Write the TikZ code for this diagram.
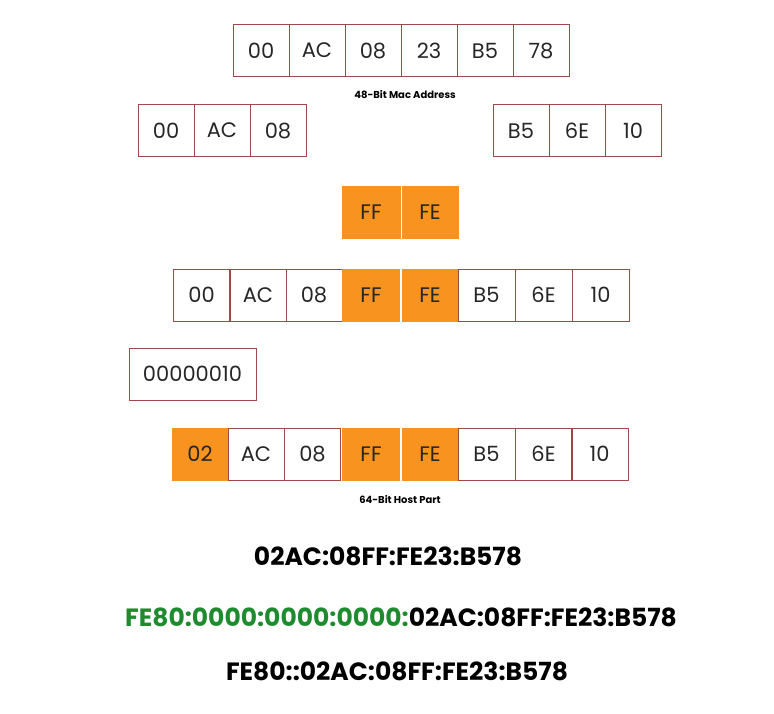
\documentclass[tikz,border=0pt]{standalone}
\usepackage{fontspec}
\setmainfont{Poppins}
\definecolor{bord}{HTML}{A0474A}
\definecolor{org}{HTML}{F7931E}
\definecolor{grn}{HTML}{1E8C2E}
\begin{document}
\begin{tikzpicture}[x=1pt,y=-1pt,
 cell/.style={draw=bord,line width=0.8pt,minimum width=#1,minimum height=52pt,inner sep=0,font=\fontsize{21}{21}\selectfont\color{black!85}},
 cell/.default=56pt,
 ocell/.style={cell=#1,fill=org,draw=org},
 ocell/.default=57pt,
 lbl/.style={font=\bfseries\fontsize{10}{10}\selectfont},
 big/.style={font=\bfseries\fontsize{25}{25}\selectfont}]
\useasboundingbox (0,0) rectangle (774,713);
% row 1
\foreach \t [count=\i] in {00,AC,08,23,B5,78}
  \node[cell] (a\i) at ({233+56*(\i-1)+28},50.5) {\t};
\node[lbl] (l1) at (405,95) {48-Bit Mac Address};
% row 2
\foreach \t [count=\i] in {00,AC,08}
  \node[cell] (b\i) at ({138+56*(\i-1)+28},130.5) {\t};
\foreach \t [count=\i] in {B5,6E,10}
  \node[cell] (c\i) at ({493+56*(\i-1)+28},130.5) {\t};
% row 3
\node[ocell=58pt] (f1) at (371,212.5) {FF};
\node[ocell=56pt] (f2) at (430,212.5) {FE};
% row 4
\foreach \t/\x [count=\i] in {00/201.5,AC/258,08/314}
  \node[cell] (d\i) at (\x,295) {\t};
\node[ocell=57pt] (d4) at (371,295) {FF};
\node[ocell=56pt] (d5) at (430,295) {FE};
\foreach \t/\x [count=\i from 6] in {B5/486.5,6E/543.5,10/600.5}
  \node[cell=57pt] (d\i) at (\x,295) {\t};
% binary
\node[cell=127pt] (bin) at (192.5,374) {00000010};
% row 6
\node[ocell=56pt] (e1) at (200,454) {02};
\foreach \t/\x [count=\i from 2] in {AC/256,08/312.5}
  \node[cell] (e\i) at (\x,454) {\t};
\node[ocell=57pt] (e4) at (371,454) {FF};
\node[ocell=56pt] (e5) at (430,454) {FE};
\foreach \t/\x [count=\i from 6] in {B5/486.5,6E/543.5,10/599.5}
  \node[cell=57pt] (e\i) at (\x,454) {\t};
\node[lbl] (l2) at (400,500) {64-Bit Host Part};
% texts
\node[big] (t1) at (388,556) {02AC:08FF:FE23:B578};
\node[big] (t2) at (401,617) {\textcolor{grn}{FE80:0000:0000:0000:}02AC:08FF:FE23:B578};
\node[big] (t3) at (397,671) {FE80::02AC:08FF:FE23:B578};
\end{tikzpicture}
\end{document}
